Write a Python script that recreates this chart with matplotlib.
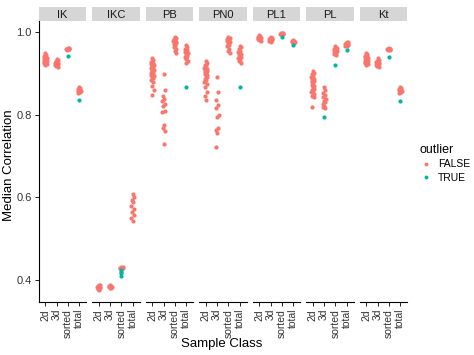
import matplotlib
matplotlib.use("Agg")
import matplotlib.pyplot as plt
from matplotlib.lines import Line2D

plt.rcParams['font.family'] = ['Liberation Sans', 'DejaVu Sans']

panels = ["IK", "IKC", "PB", "PN0", "PL1", "PL", "Kt"]
classes = ["2d", "3d", "sorted", "total"]

# non-outlier medians, one list per class (2d, 3d, sorted, total)
IK = [
    [0.948, 0.945, 0.942, 0.940, 0.938, 0.937, 0.935, 0.934, 0.933, 0.932,
     0.931, 0.930, 0.929, 0.928, 0.927, 0.926, 0.925, 0.923, 0.921],
    [0.935, 0.932, 0.930, 0.928, 0.926, 0.925, 0.924, 0.922, 0.921, 0.920, 0.918, 0.916],
    [0.962, 0.961, 0.960, 0.960, 0.959, 0.959, 0.958, 0.958, 0.957],
    [0.866, 0.864, 0.862, 0.860, 0.858, 0.857, 0.856, 0.855, 0.853],
]
IKC = [
    [0.389, 0.387, 0.385, 0.384, 0.383, 0.382, 0.381, 0.380, 0.379, 0.377],
    [0.388, 0.386, 0.385, 0.384, 0.383, 0.382, 0.381, 0.380],
    [0.431, 0.431, 0.430, 0.430, 0.430, 0.429, 0.429],
    [0.607, 0.600, 0.594, 0.588, 0.580, 0.572, 0.565, 0.558, 0.550, 0.543],
]
PB = [
    [0.937, 0.932, 0.928, 0.925, 0.922, 0.920, 0.918, 0.915, 0.913, 0.911, 0.909,
     0.907, 0.905, 0.903, 0.901, 0.899, 0.897, 0.894, 0.891, 0.888, 0.884, 0.878,
     0.869, 0.860, 0.848],
    [0.898, 0.860, 0.845, 0.838, 0.832, 0.826, 0.820, 0.810, 0.806, 0.775, 0.768,
     0.760, 0.730],
    [0.988, 0.985, 0.982, 0.980, 0.978, 0.976, 0.975, 0.973, 0.970, 0.967, 0.963,
     0.958, 0.953, 0.950],
    [0.968, 0.964, 0.960, 0.956, 0.952, 0.948, 0.945, 0.942, 0.940, 0.937, 0.934,
     0.930, 0.926],
]
PN0 = [
    [0.930, 0.925, 0.920, 0.917, 0.914, 0.911, 0.909, 0.906, 0.903, 0.900, 0.898,
     0.896, 0.893, 0.890, 0.887, 0.884, 0.880, 0.875, 0.866, 0.855, 0.845, 0.835],
    [0.891, 0.856, 0.835, 0.823, 0.815, 0.798, 0.794, 0.768, 0.762, 0.756, 0.722],
    [0.988, 0.986, 0.983, 0.980, 0.978, 0.975, 0.972, 0.969, 0.965, 0.960, 0.955, 0.950],
    [0.967, 0.963, 0.959, 0.955, 0.951, 0.947, 0.944, 0.940, 0.937, 0.933, 0.929, 0.925],
]
PL1 = [
    [0.993, 0.991, 0.989, 0.987, 0.986, 0.985, 0.984, 0.983, 0.982, 0.981, 0.980, 0.979],
    [0.988, 0.986, 0.985, 0.984, 0.983, 0.982, 0.981, 0.980, 0.978, 0.977],
    [0.998, 0.997, 0.997, 0.996, 0.996, 0.995, 0.995, 0.994, 0.994],
    [0.980, 0.979, 0.978, 0.977, 0.976, 0.976, 0.975, 0.974],
]
PL = [
    [0.906, 0.902, 0.898, 0.894, 0.890, 0.887, 0.884, 0.881, 0.878, 0.875, 0.872,
     0.869, 0.866, 0.863, 0.860, 0.857, 0.854, 0.850, 0.846, 0.842, 0.818],
    [0.866, 0.860, 0.852, 0.847, 0.842, 0.838, 0.834, 0.830, 0.826, 0.822, 0.818, 0.815],
    [0.965, 0.962, 0.959, 0.957, 0.955, 0.953, 0.951, 0.949, 0.947, 0.945],
    [0.976, 0.975, 0.973, 0.972, 0.971, 0.970, 0.969, 0.968, 0.967, 0.966],
]
Kt = [
    [0.949, 0.946, 0.943, 0.941, 0.939, 0.937, 0.936, 0.934, 0.933, 0.932,
     0.931, 0.930, 0.929, 0.928, 0.927, 0.926, 0.924, 0.922, 0.920],
    [0.936, 0.933, 0.930, 0.928, 0.927, 0.925, 0.924, 0.922, 0.921, 0.919, 0.917, 0.915],
    [0.961, 0.960, 0.960, 0.959, 0.959, 0.958, 0.958, 0.957, 0.956],
    [0.867, 0.864, 0.862, 0.860, 0.859, 0.857, 0.856, 0.854, 0.852],
]
normal = [IK, IKC, PB, PN0, PL1, PL, Kt]

# outlier samples
out_panel = ["IK", "IK", "IKC", "IKC", "IKC", "IKC", "PB", "PN0", "PL1", "PL1",
             "PL", "PL", "PL", "Kt", "Kt"]
out_class = ["sorted", "total", "sorted", "sorted", "sorted", "sorted", "total",
             "total", "sorted", "total", "3d", "sorted", "total", "sorted", "total"]
out_value = [0.942, 0.835, 0.424, 0.420, 0.416, 0.410, 0.867, 0.867, 0.988, 0.969,
             0.794, 0.920, 0.956, 0.940, 0.833]

c_false = "#F8766D"
c_true = "#00B89F"
jit = [0.0, 0.1, -0.09, 0.05, -0.13, 0.13, -0.04, 0.08, -0.11, 0.02, -0.06, 0.12]

fig = plt.figure(figsize=(4.74, 3.55), dpi=100)
W, H = 474, 355
left0, pw, step = 38.5, 47.5, 53.5
top, bottom, strip_h = 21, 302, 14

for i, p in enumerate(panels):
    x0 = left0 + i * step
    ax = fig.add_axes([x0 / W, (H - bottom) / H, pw / W, (bottom - top) / H])
    for k, vals in enumerate(normal[i]):
        xs = [k + 1 + jit[j % len(jit)] for j in range(len(vals))]
        ax.scatter(xs, vals, s=9, color=c_false, linewidths=0, zorder=2)
    ox = [classes.index(c) + 1 for pp, c in zip(out_panel, out_class) if pp == p]
    oy = [v for pp, v in zip(out_panel, out_value) if pp == p]
    ax.scatter(ox, oy, s=9, color=c_true, linewidths=0, zorder=3)

    ax.set_xlim(0.4, 4.6)
    ax.set_ylim(0.3468, 1.0266)
    ax.set_xticks(range(1, 5))
    ax.set_xticklabels(classes, rotation=90, fontsize=7.5, color="#333333")
    ax.tick_params(axis="x", length=3, width=0.6, pad=2)
    for s in ["top", "right"]:
        ax.spines[s].set_visible(False)
    ax.spines["bottom"].set_linewidth(0.8)
    if i == 0:
        ax.set_yticks([0.4, 0.6, 0.8, 1.0])
        ax.set_yticklabels(["0.4", "0.6", "0.8", "1.0"], fontsize=8, color="#333333")
        ax.tick_params(axis="y", length=3, width=0.6, pad=2)
        ax.spines["left"].set_linewidth(0.8)
    else:
        ax.set_yticks([])
        ax.spines["left"].set_visible(False)

    sax = fig.add_axes([x0 / W, (H - top) / H, pw / W, strip_h / H])
    sax.set_facecolor("#D6D6D6")
    sax.set_xticks([])
    sax.set_yticks([])
    for s in sax.spines.values():
        s.set_visible(False)
    sax.text(0.5, 0.45, p, ha="center", va="center", fontsize=8,
             color="#1A1A1A", transform=sax.transAxes)

fig.text(222 / W, 1 - 344 / H, "Sample Class", ha="center", va="center", fontsize=9.5)
fig.text(9 / W, 1 - 165 / H, "Median Correlation", ha="center", va="center",
         rotation=90, fontsize=9.5)

handles = [Line2D([], [], marker="o", linestyle="", markersize=2.8,
                  markerfacecolor=c, markeredgewidth=0) for c in (c_false, c_true)]
fig.legend(handles, ["FALSE", "TRUE"], title="outlier", loc="upper left",
           bbox_to_anchor=(412 / W, 1 - 137 / H), frameon=False, fontsize=7.5,
           title_fontsize=9, handletextpad=0.6, labelspacing=0.3,
           handlelength=1.2, borderpad=0.2)._legend_box.align = "left"

fig.savefig("out.png", dpi=100)
